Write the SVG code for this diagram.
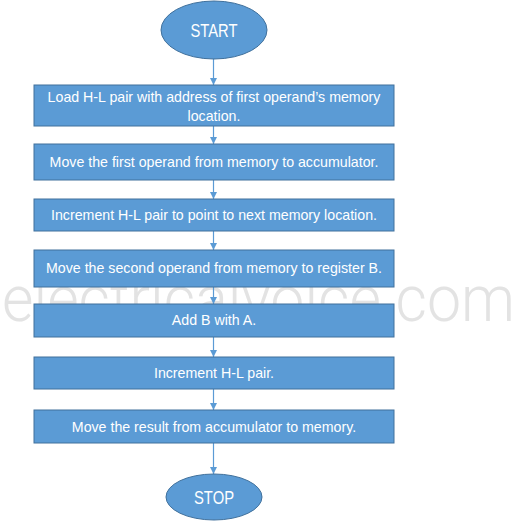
<svg xmlns="http://www.w3.org/2000/svg" width="527" height="527" viewBox="0 0 527 527">
<defs>
<marker id="ah" markerWidth="8" markerHeight="8" refX="7" refY="4" orient="auto" markerUnits="userSpaceOnUse">
<path d="M0,0.5 L7,4 L0,7.5 Z" fill="#5b9bd5"/>
</marker>
</defs>
<style>
.n{fill:#5b9bd5;stroke:#41719c;stroke-width:1}
.t{fill:#ffffff;font-family:"Liberation Sans",Arial,sans-serif;font-size:14.2px;text-anchor:middle}
.e{fill:#ffffff;font-family:"Liberation Sans",Arial,sans-serif;font-size:18px;text-anchor:middle}
.c{stroke:#5b9bd5;stroke-width:1.2;fill:none;marker-end:url(#ah)}
.w{fill:#e3e3e3;font-family:Roboto,"Liberation Sans",sans-serif;font-weight:300;font-size:64px}
</style>
<rect width="527" height="527" fill="#ffffff"/>
<text class="w" x="2" y="321" textLength="513" lengthAdjust="spacingAndGlyphs">electricalvoice.com</text>
<g id="connectors">
<line class="c" x1="213.5" y1="59" x2="213.5" y2="85"/>
<line class="c" x1="213.5" y1="126" x2="213.5" y2="144"/>
<line class="c" x1="213.5" y1="180" x2="213.5" y2="199"/>
<line class="c" x1="213.5" y1="231" x2="213.5" y2="250"/>
<line class="c" x1="213.5" y1="287" x2="213.5" y2="304"/>
<line class="c" x1="213.5" y1="337" x2="213.5" y2="357"/>
<line class="c" x1="213.5" y1="389" x2="213.5" y2="410"/>
<line class="c" x1="213.5" y1="443" x2="213.5" y2="474"/>
</g>
<g id="start">
<ellipse class="n" cx="214" cy="30" rx="53" ry="29"/>
<text class="e" x="214" y="36.5" textLength="47" lengthAdjust="spacingAndGlyphs">START</text>
</g>
<g id="step1">
<rect class="n" x="34" y="85" width="360" height="41"/>
<text class="t" x="214" y="102">Load H-L pair with address of first operand’s memory</text>
<text class="t" x="214" y="121">location.</text>
</g>
<g id="step2">
<rect class="n" x="34" y="144" width="360" height="36"/>
<text class="t" x="214" y="167">Move the first operand from memory to accumulator.</text>
</g>
<g id="step3">
<rect class="n" x="34" y="199" width="360" height="32"/>
<text class="t" x="214" y="220">Increment H-L pair to point to next memory location.</text>
</g>
<g id="step4">
<rect class="n" x="34" y="250" width="360" height="37"/>
<text class="t" x="214" y="273">Move the second operand from memory to register B.</text>
</g>
<g id="step5">
<rect class="n" x="34" y="304" width="360" height="33"/>
<text class="t" x="214" y="325">Add B with A.</text>
</g>
<g id="step6">
<rect class="n" x="34" y="357" width="360" height="32"/>
<text class="t" x="214" y="378">Increment H-L pair.</text>
</g>
<g id="step7">
<rect class="n" x="34" y="410" width="360" height="33"/>
<text class="t" x="214" y="432">Move the result from accumulator to memory.</text>
</g>
<g id="stop">
<ellipse class="n" cx="214" cy="497" rx="48" ry="23"/>
<text class="e" x="214" y="503.5" textLength="40" lengthAdjust="spacingAndGlyphs">STOP</text>
</g>
</svg>
